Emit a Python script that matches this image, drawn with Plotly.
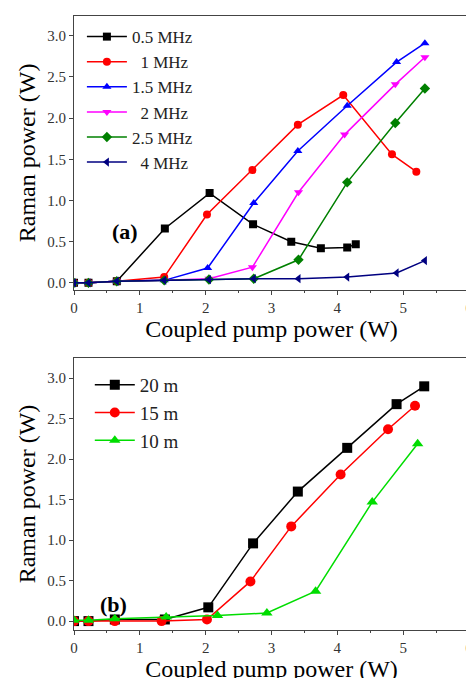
import plotly.graph_objects as go
from plotly.subplots import make_subplots

# panel (a): repetition rate
a_names = ["0.5 MHz", "  1 MHz", "1.5 MHz", "  2 MHz", "2.5 MHz", "  4 MHz"]
a_x = [
    [0, 0.22, 0.65, 1.38, 2.06, 2.72, 3.3, 3.75, 4.15, 4.28],
    [0, 0.22, 0.65, 1.37, 2.02, 2.71, 3.4, 4.09, 4.83, 5.2],
    [0, 0.22, 0.65, 1.37, 2.03, 2.73, 3.4, 4.15, 4.9, 5.33],
    [0, 0.22, 0.65, 1.37, 2.05, 2.71, 3.41, 4.11, 4.88, 5.33],
    [0, 0.22, 0.65, 1.37, 2.05, 2.73, 3.41, 4.15, 4.88, 5.33],
    [0, 0.22, 0.65, 1.37, 2.05, 2.73, 3.41, 4.15, 4.9, 5.33],
]
a_y = [
    [0, 0, 0.02, 0.66, 1.09, 0.71, 0.5, 0.42, 0.43, 0.47],
    [0, 0, 0.02, 0.07, 0.83, 1.37, 1.92, 2.28, 1.56, 1.35],
    [0, 0, 0.02, 0.03, 0.18, 0.97, 1.6, 2.15, 2.68, 2.91],
    [0, 0, 0.02, 0.03, 0.05, 0.19, 1.1, 1.8, 2.41, 2.74],
    [0, 0, 0.02, 0.03, 0.04, 0.05, 0.28, 1.22, 1.94, 2.36],
    [0, 0, 0.02, 0.03, 0.04, 0.05, 0.05, 0.07, 0.12, 0.27],
]
a_colors = ["#000000", "#ff0000", "#0000ff", "#ff00ff", "#008000", "#000080"]
a_symbols = ["square", "circle", "triangle-up", "triangle-down", "diamond", "triangle-left"]

# panel (b): fiber length
b_names = ["20 m", "15 m", "10 m"]
b_x = [
    [0, 0.22, 0.62, 1.38, 2.04, 2.72, 3.4, 4.15, 4.9, 5.32],
    [0, 0.22, 0.62, 1.33, 2.02, 2.68, 3.3, 4.05, 4.77, 5.18],
    [0, 0.22, 0.62, 1.4, 2.18, 2.93, 3.67, 4.53, 5.22],
]
b_y = [
    [0, 0, 0.02, 0.02, 0.17, 0.96, 1.6, 2.14, 2.68, 2.9],
    [0, 0, 0, 0, 0.02, 0.49, 1.17, 1.81, 2.37, 2.66],
    [0.01, 0.01, 0.03, 0.05, 0.07, 0.1, 0.37, 1.47, 2.19],
]
b_colors = ["#000000", "#ff0000", "#00dd00"]
b_symbols = ["square", "circle", "triangle-up"]

fig = make_subplots(rows=2, cols=1, vertical_spacing=0.1)

for i in range(len(a_names)):
    fig.add_trace(go.Scatter(x=a_x[i], y=a_y[i], name=a_names[i], mode="lines+markers",
                             line=dict(color=a_colors[i], width=1.5),
                             marker=dict(symbol=a_symbols[i], size=8, color=a_colors[i]),
                             legend="legend"), row=1, col=1)
for i in range(len(b_names)):
    fig.add_trace(go.Scatter(x=b_x[i], y=b_y[i], name=b_names[i], mode="lines+markers",
                             line=dict(color=b_colors[i], width=1.5),
                             marker=dict(symbol=b_symbols[i], size=10, color=b_colors[i]),
                             legend="legend2"), row=2, col=1)

font = "Liberation Serif"
ax = dict(showline=True, linecolor="#444", mirror=True, ticks="outside", ticklen=4,
          tickfont=dict(family=font, size=15, color="#333"), showgrid=False, zeroline=False)
for r, yr, dom in [(1, [-0.085, 3.24], [0.554, 1.0]), (2, [-0.11, 3.25], [0.0, 0.443])]:
    fig.update_xaxes(ax, range=[0, 6], dtick=1, minor=dict(ticks="outside", ticklen=2, dtick=0.5),
                     title=dict(text="Coupled pump power (W)",
                                font=dict(family=font, size=24, color="black"), standoff=0),
                     row=r, col=1)
    fig.update_yaxes(ax, range=yr, dtick=0.5, tickformat=".1f", domain=dom,
                     title=dict(text="Raman power (W)",
                                font=dict(family=font, size=24, color="black"), standoff=4),
                     row=r, col=1)

fig.add_annotation(x=0.78, y=0.62, xref="x", yref="y", text="<b>(a)</b>", showarrow=False,
                   font=dict(family=font, size=22, color="black"))
fig.add_annotation(x=0.6, y=0.2, xref="x2", yref="y2", text="<b>(b)</b>", showarrow=False,
                   font=dict(family=font, size=22, color="black"))

fig.update_layout(
    width=474, height=678, plot_bgcolor="white", paper_bgcolor="white",
    margin=dict(l=66, r=13, t=8, b=56), showlegend=True,
    legend=dict(x=0.02, y=0.995, xanchor="left", yanchor="top", bgcolor="rgba(0,0,0,0)",
                font=dict(family=font, size=17, color="#222"), tracegroupgap=0, itemwidth=40),
    legend2=dict(x=0.04, y=0.43, xanchor="left", yanchor="top", bgcolor="rgba(0,0,0,0)",
                 font=dict(family=font, size=19, color="#222"), tracegroupgap=0, itemwidth=40),
)
fig.write_html("out.html")
